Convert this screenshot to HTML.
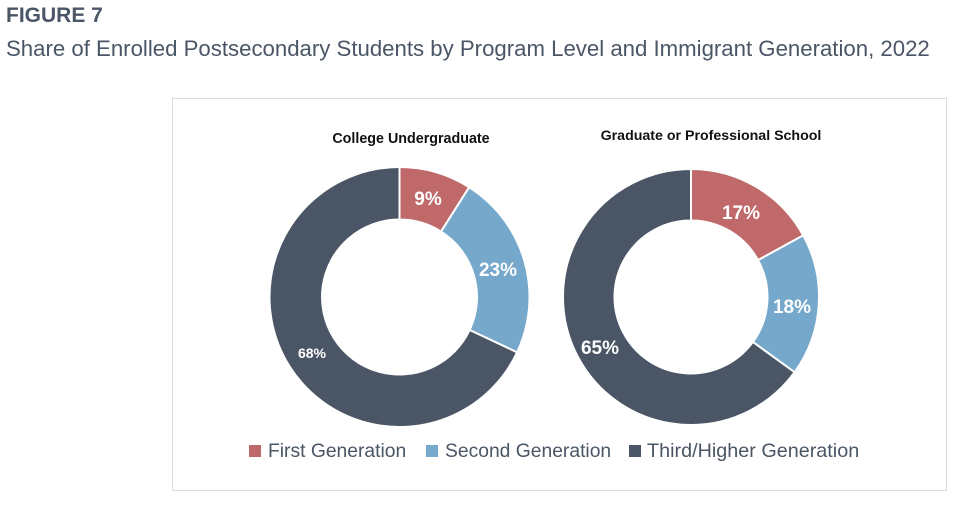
<!DOCTYPE html>
<html><head><meta charset="utf-8"><style>
body{margin:0;width:964px;height:508px;background:#fff;font-family:"Liberation Sans",sans-serif;overflow:hidden;position:relative}
.h1{position:absolute;left:6px;top:4px;font-size:21px;font-weight:bold;color:#4a5666;letter-spacing:0px}
.h2{position:absolute;left:6px;top:36px;font-size:22.2px;color:#4a5666}
.box{position:absolute;left:172px;top:98px;width:773px;height:391px;border:1px solid #dcdcdc}
svg{position:absolute;left:0;top:0}
</style></head><body>
<div class="h1">FIGURE 7</div>
<div class="h2">Share of Enrolled Postsecondary Students by Program Level and Immigrant Generation, 2022</div>
<div class="box"></div>
<svg width="964" height="508" id="s" font-family="Liberation Sans, sans-serif">
<text x="411" y="143" font-size="14.3" font-weight="bold" text-anchor="middle" fill="#111">College Undergraduate</text>
<text x="711" y="140" font-size="14.2" font-weight="bold" text-anchor="middle" fill="#111">Graduate or Professional School</text>
<g id="d"></g>
<text x="428" y="205" font-size="19" font-weight="bold" fill="#fff" text-anchor="middle">9%</text>
<text x="498" y="276" font-size="19" font-weight="bold" fill="#fff" text-anchor="middle">23%</text>
<text x="312" y="358" font-size="14" font-weight="bold" fill="#fff" text-anchor="middle">68%</text>
<text x="741" y="219" font-size="19" font-weight="bold" fill="#fff" text-anchor="middle">17%</text>
<text x="792" y="313" font-size="19" font-weight="bold" fill="#fff" text-anchor="middle">18%</text>
<text x="600" y="354" font-size="19" font-weight="bold" fill="#fff" text-anchor="middle">65%</text>
<rect x="249" y="445" width="12" height="12" fill="#c0696a"/>
<text x="268" y="457" font-size="19.3" fill="#4a5666">First Generation</text>
<rect x="426" y="445" width="12" height="12" fill="#75a8cb"/>
<text x="445" y="457" font-size="19.3" fill="#4a5666">Second Generation</text>
<rect x="629" y="445" width="12" height="12" fill="#4a5565"/>
<text x="647" y="457" font-size="19.8" fill="#4a5666">Third/Higher Generation</text>
</svg>
<script>
function arc(cx,cy,R,r,a0,a1){
function pt(rad,a){const t=(a-90)*Math.PI/180;return (cx+rad*Math.cos(t)).toFixed(2)+","+(cy+rad*Math.sin(t)).toFixed(2);}
const l=(a1-a0)>180?1:0;
return `M${pt(R,a0)} A${R},${R} 0 ${l} 1 ${pt(R,a1)} L${pt(r,a1)} A${r},${r} 0 ${l} 0 ${pt(r,a0)} Z`;}
const cols=["#c0696a","#75a8cb","#4a5565"];let h="";
[[399.5,297,130,77.5,[9,23,68]],[691,297,128,76.5,[17,18,65]]].forEach(([cx,cy,R,r,v])=>{
let a=0;v.forEach((x,i)=>{const b=a+x*3.6;h+=`<path d="${arc(cx,cy,R,r,a,b)}" fill="${cols[i]}" stroke="#fff" stroke-width="2"/>`;a=b;});});
document.getElementById("d").innerHTML=h;
</script>
</body></html>
